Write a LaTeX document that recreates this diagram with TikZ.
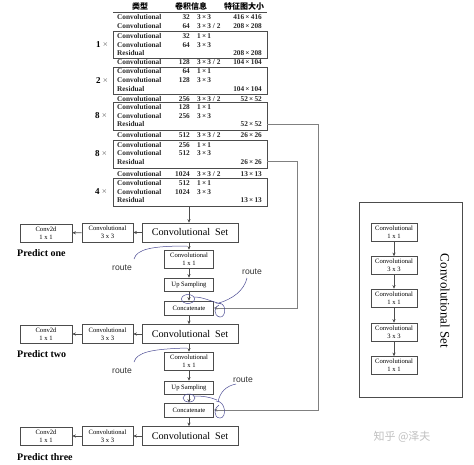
\documentclass[tikz,border=0pt]{standalone}
\usepackage{fontspec}
\setmainfont{Liberation Serif}
\newfontfamily\cjk{Noto Sans CJK SC}
\newfontfamily\arialf{Liberation Sans}
\usetikzlibrary{arrows.meta,calc}
\newcommand\trow[6]{%
 \node[tb,anchor=base west] (#1a) at (117,#2+2.6) {#3};
 \node[tb,anchor=base east] (#1b) at (190,#2+2.6) {#4};
 \node[tb,anchor=base west] (#1c) at (197,#2+2.6) {#5};
 \node[tb,anchor=base east] (#1d) at (262,#2+2.6) {#6};}
\begin{document}
\begin{tikzpicture}[x=1pt,y=-1pt,
 tb/.style={font=\fontsize{7.3}{8}\selectfont\bfseries, inner sep=0pt, text=black!85},
 hd/.style={font=\cjk\fontsize{8}{9}\selectfont\bfseries, inner sep=0pt},
 mul/.style={font=\fontsize{9}{10}\selectfont, inner sep=0pt},
 grp/.style={draw=black!70, line width=0.6pt, inner sep=0pt},
 box/.style={draw=black!70, line width=0.6pt, fill=white, align=center, inner sep=0pt,
   font=\fontsize{6.6}{8.2}\selectfont},
 bigbox/.style={draw=black!70, line width=0.6pt, fill=white, inner sep=0pt,
   minimum width=96pt, minimum height=19pt, font=\fontsize{10.2}{12}\selectfont},
 arr/.style={-{Stealth[length=3.6pt,width=3.2pt]}, draw=black!70, line width=0.6pt},
 rline/.style={-{Stealth[length=3.6pt,width=3.2pt]}, draw=black!50, line width=0.7pt},
 pred/.style={font=\fontsize{10}{12}\selectfont\bfseries, inner sep=0pt, anchor=west},
 rlab/.style={font=\arialf\fontsize{8.6}{10}\selectfont, inner sep=0pt, text=black!80},
 scrib/.style={draw=blue!40!black!70, line width=0.5pt},
]
\useasboundingbox (0,0) rectangle (474,464);

% ---------- table ----------
\node[hd] (h1) at (140,6) {类型};
\node[hd] (h2) at (191,6) {卷积信息};
\node[hd] (h3) at (244,6) {特征图大小};
\draw[black!70, line width=0.6pt] (113,12.7) -- (267,12.7);

\node[grp, minimum width=154pt, minimum height=27pt] (b1) at (190,44.5) {};
\node[grp, minimum width=154pt, minimum height=27pt] (b2) at (190,80.5) {};
\node[grp, minimum width=154pt, minimum height=28pt] (b3) at (190,116) {};
\node[grp, minimum width=154pt, minimum height=28pt] (b4) at (190,154) {};
\node[grp, minimum width=154pt, minimum height=28pt] (b5) at (190,192) {};

\trow{ra}{17}{Convolutional}{32}{3\,×\,3}{416\,×\,416}
\trow{rb}{26}{Convolutional}{64}{3\,×\,3 / 2}{208\,×\,208}
\trow{rc}{36}{Convolutional}{32}{1\,×\,1}{}
\trow{rd}{44.5}{Convolutional}{64}{3\,×\,3}{}
\trow{re}{53}{Residual}{}{}{208\,×\,208}
\trow{rf}{62}{Convolutional}{128}{3\,×\,3 / 2}{104\,×\,104}
\trow{rg}{71}{Convolutional}{64}{1\,×\,1}{}
\trow{rh}{80}{Convolutional}{128}{3\,×\,3}{}
\trow{ri}{88.5}{Residual}{}{}{104\,×\,104}
\trow{rj}{98.5}{Convolutional}{256}{3\,×\,3 / 2}{52\,×\,52}
\trow{rk}{107}{Convolutional}{128}{1\,×\,1}{}
\trow{rl}{115.5}{Convolutional}{256}{3\,×\,3}{}
\trow{rm}{124}{Residual}{}{}{52\,×\,52}
\trow{rn}{134.5}{Convolutional}{512}{3\,×\,3 / 2}{26\,×\,26}
\trow{ro}{144.5}{Convolutional}{256}{1\,×\,1}{}
\trow{rp}{153}{Convolutional}{512}{3\,×\,3}{}
\trow{rq}{161.5}{Residual}{}{}{26\,×\,26}
\trow{rr}{173.5}{Convolutional}{1024}{3\,×\,3 / 2}{13\,×\,13}
\trow{rs}{183}{Convolutional}{512}{1\,×\,1}{}
\trow{rt}{191.5}{Convolutional}{1024}{3\,×\,3}{}
\trow{ru}{200}{Residual}{}{}{13\,×\,13}

\node[mul] (m1) at (102,45) {\textbf{1} {\color{black!60}×}};
\node[mul] (m2) at (102,80.5) {\textbf{2} {\color{black!60}×}};
\node[mul] (m3) at (101,116) {\textbf{8} {\color{black!60}×}};
\node[mul] (m4) at (101,153.5) {\textbf{8} {\color{black!60}×}};
\node[mul] (m5) at (101,192) {\textbf{4} {\color{black!60}×}};

% ---------- prediction column ----------
\node[bigbox] (cs1) at (190,232.5) {Convolutional\ \ Set};
\node[box, minimum width=51pt, minimum height=19pt] (c31) at (107.5,232.5) {Convolutional\\3 x 3};
\node[box, minimum width=52pt, minimum height=18pt] (cd1) at (46,233) {Conv2d\\1 x 1};
\node[pred] (p1) at (17,253.5) {Predict one};
\node[box, minimum width=49pt, minimum height=18pt] (c11) at (189,259) {Convolutional\\1 x 1};
\node[box, minimum width=49pt, minimum height=13pt] (up1) at (189,284.5) {Up Sampling};
\node[box, minimum width=49pt, minimum height=14pt] (cat1) at (189,308) {Concatenate};

\node[bigbox] (cs2) at (190,334) {Convolutional\ \ Set};
\node[box, minimum width=51pt, minimum height=19pt] (c32) at (107.5,334) {Convolutional\\3 x 3};
\node[box, minimum width=52pt, minimum height=18pt] (cd2) at (46,334) {Conv2d\\1 x 1};
\node[pred] (p2) at (17,354.5) {Predict two};
\node[box, minimum width=49pt, minimum height=18pt] (c12) at (189,361) {Convolutional\\1 x 1};
\node[box, minimum width=49pt, minimum height=13pt] (up2) at (189,387.5) {Up Sampling};
\node[box, minimum width=49pt, minimum height=14pt] (cat2) at (189,410) {Concatenate};

\node[bigbox] (cs3) at (190,436) {Convolutional\ \ Set};
\node[box, minimum width=51pt, minimum height=19pt] (c33) at (107.5,436) {Convolutional\\3 x 3};
\node[box, minimum width=52pt, minimum height=18pt] (cd3) at (46,436) {Conv2d\\1 x 1};
\node[pred] (p3) at (17,457) {Predict three};

\draw[arr] (b5.south -| c11) -- (cs1.north -| c11);
\draw[arr] (cs1) -- (c31);
\draw[arr] (c31) -- (cd1);
\draw[arr] (cs1.south -| c11) -- (c11);
\draw[arr] (c11) -- (up1);
\draw[arr] (up1) -- (cat1);
\draw[arr] (cat1.south) -- (cs2.north -| cat1);
\draw[arr] (cs2) -- (c32);
\draw[arr] (c32) -- (cd2);
\draw[arr] (cs2.south -| c12) -- (c12);
\draw[arr] (c12) -- (up2);
\draw[arr] (up2) -- (cat2);
\draw[arr] (cat2.south) -- (cs3.north -| cat2);
\draw[arr] (cs3) -- (c33);
\draw[arr] (c33) -- (cd3);

% route lines
\coordinate (k1) at (297,161.5);
\coordinate (k2) at (318,124);
\draw[rline] (b4.east |- k1) -- (k1) |- (cat1.east);
\draw[rline] (b3.east |- k2) -- (k2) |- (cat2.east);

% route labels and hand-drawn strokes
\node[rlab] (rt1) at (122,268) {route};
\node[rlab] (rt2) at (252,272) {route};
\node[rlab] (rt3) at (122,371) {route};
\node[rlab] (rt4) at (243,380) {route};
\draw[scrib] (134,259) .. controls (137,249) and (152,246) .. (187,246);
\draw[scrib] (134,362) .. controls (137,352) and (152,349) .. (187,348);
\draw[scrib] (247,278) .. controls (244,291) and (232,299) .. (219,303);
\draw[scrib] (236,384) .. controls (226,386) and (220,392) .. (218,402);
\draw[scrib] (188,299) ellipse (6.5pt and 4.5pt);
\draw[scrib] (194,297) .. controls (203,297) and (210,301) .. (221,304);
\draw[scrib] (216,303) .. controls (228,301) and (226,318) .. (220,317) .. controls (213,316) and (214,306) .. (219,305);
\draw[scrib] (189,398) ellipse (6pt and 4pt);
\draw[scrib] (194,396) .. controls (203,396) and (210,397) .. (217,400);
\draw[scrib] (216,401) .. controls (226,401) and (227,418) .. (220,418) .. controls (213,418) and (214,407) .. (219,405);

% ---------- right panel ----------
\node[draw=black!70, line width=0.6pt, minimum width=103pt, minimum height=195pt, inner sep=0pt] (panel) at (410.5,299.5) {};
\node[box, minimum width=46pt, minimum height=18pt] (s1) at (394,232) {Convolutional\\1 x 1};
\node[box, minimum width=46pt, minimum height=18pt] (s2) at (394,265.5) {Convolutional\\3 x 3};
\node[box, minimum width=46pt, minimum height=18pt] (s3) at (394,298) {Convolutional\\1 x 1};
\node[box, minimum width=46pt, minimum height=18pt] (s4) at (394,332) {Convolutional\\3 x 3};
\node[box, minimum width=46pt, minimum height=18pt] (s5) at (394,365.5) {Convolutional\\1 x 1};
\draw[arr] (s1) -- (s2);
\draw[arr] (s2) -- (s3);
\draw[arr] (s3) -- (s4);
\draw[arr] (s4) -- (s5);
\node[rotate=-90, inner sep=0pt, font=\fontsize{13}{14}\selectfont] (pl) at (445,301) {Convolutional Set};

% watermark
\node[font=\cjk\fontsize{11}{12}\selectfont, text=black!25, inner sep=0pt] (wm) at (402,437) {知乎 @泽夫};
\end{tikzpicture}
\end{document}
